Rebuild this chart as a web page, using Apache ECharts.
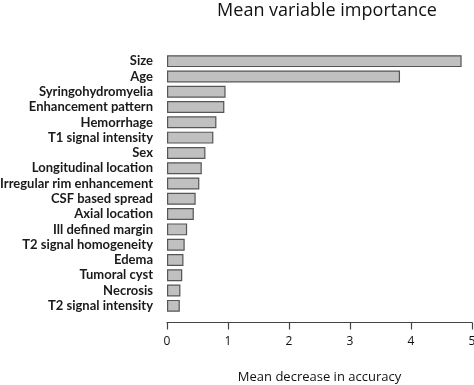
<!DOCTYPE html>
<html><head><meta charset="utf-8">
<script src="https://cdn.jsdelivr.net/npm/echarts@6/dist/echarts.min.js"></script>
<style>html,body{margin:0;padding:0;background:#fff}#c{width:474px;height:385px}</style>
</head><body><div id="c"></div>
<script>
const categories = ["Size","Age","Syringohydromyelia","Enhancement pattern","Hemorrhage","T1 signal intensity","Sex","Longitudinal location","Irregular rim enhancement","CSF based spread","Axial location","Ill defined margin","T2 signal homogeneity","Edema","Tumoral cyst","Necrosis","T2 signal intensity"];
const values = [4.83,3.82,0.96,0.94,0.81,0.76,0.63,0.57,0.53,0.47,0.44,0.33,0.29,0.27,0.25,0.22,0.21];
const xTicks = [0,1,2,3,4,5];

const chart = echarts.init(document.getElementById('c'));
chart.setOption({
  animation:false,
  title:{text:'Mean variable importance',left:322,textAlign:'center',top:-3,
    textStyle:{fontFamily:'Open Sans',fontWeight:'normal',fontSize:18,color:'#111'}},
  grid:{left:167,right:2,top:53.5,bottom:71.5,containLabel:false,outerBoundsMode:'none'},
  xAxis:{type:'value',min:xTicks[0],max:xTicks[xTicks.length-1],interval:1,offset:9,
    axisLine:{show:true,lineStyle:{color:'#444',width:1.2}},
    axisTick:{show:true,length:7,lineStyle:{color:'#444',width:1.2}},
    splitLine:{show:false},
    axisLabel:{margin:13,fontFamily:'Open Sans',fontSize:12,color:'#111',hideOverlap:false},
    name:'Mean decrease in accuracy',nameLocation:'middle',nameGap:48,
    nameTextStyle:{fontFamily:'Open Sans',fontSize:13,color:'#111'}},
  yAxis:{type:'category',data:categories,inverse:true,
    axisLine:{show:false},axisTick:{show:false},
    axisLabel:{interval:0,margin:14,fontFamily:'Lato',fontWeight:'bold',fontSize:13,color:'#1a1a1a',hideOverlap:false}},
  series:[{type:'bar',data:values,barWidth:'78%',
    itemStyle:{color:'#c0c0c0',borderColor:'#555',borderWidth:1.2}}]
});
</script></body></html>
